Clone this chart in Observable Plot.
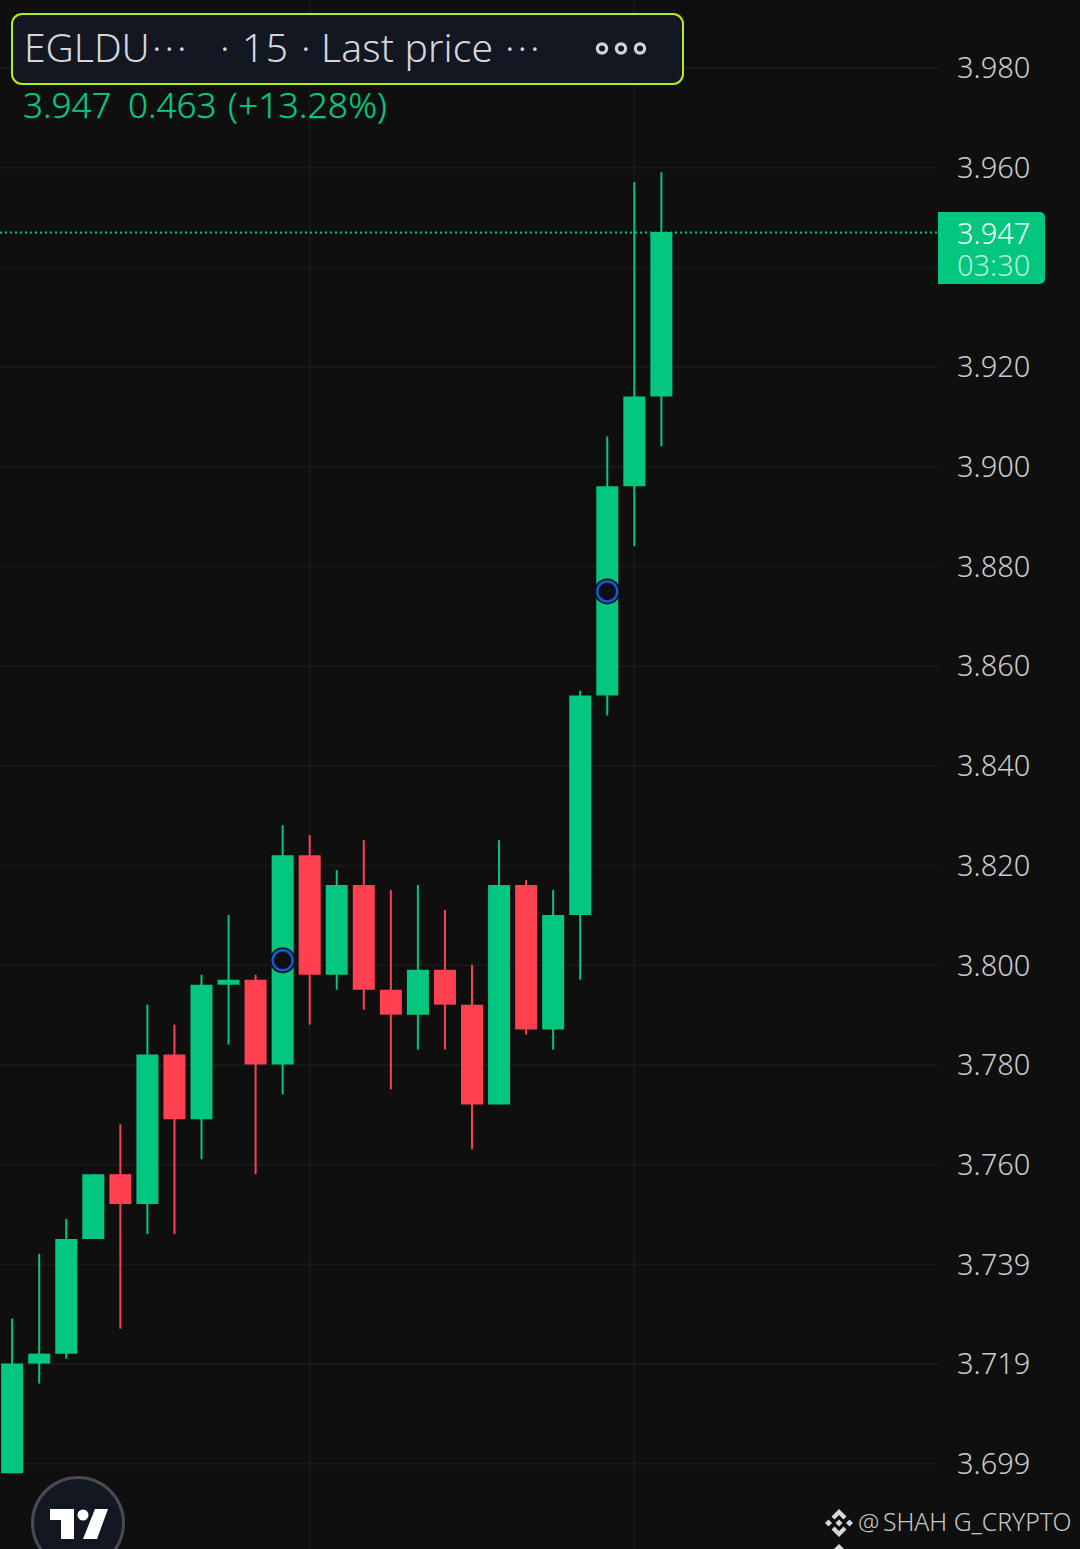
<!DOCTYPE html>
<html>
<head>
<meta charset="utf-8">
<script src="https://cdn.jsdelivr.net/npm/d3@7"></script>
<script src="https://cdn.jsdelivr.net/npm/@observablehq/plot@0.6"></script>
<style>
html,body{margin:0;padding:0;background:#0f0f0f;width:1080px;height:1549px;overflow:hidden}
#wrap{position:relative;width:1080px;height:1549px;overflow:hidden;font-family:"Noto Sans",sans-serif}
#chart svg{display:block}
.abs{position:absolute;white-space:pre;line-height:1}
.hd{font-size:39px;font-weight:300;color:#d6d6da;top:27px}
.sub{font-size:35px;font-weight:300;color:#05c982;top:87px;-webkit-text-stroke:.25px #05c982}
</style>
</head>
<body>
<div id="wrap">
<div id="chart"></div>
<div class="abs" style="left:11px;top:13px;width:669px;height:68px;background:#131722;border:2px solid #b2f01a;border-radius:11px"></div>
<div class="abs hd" style="left:24px">EGLDU</div>
<div class="abs hd" style="left:152px;letter-spacing:3px">···</div>
<div class="abs hd" style="left:220px">·</div>
<div class="abs hd" style="left:242px;letter-spacing:1.500px">15</div>
<div class="abs hd" style="left:301px">·</div>
<div class="abs hd" style="left:321px;letter-spacing:.15px">Last price</div>
<div class="abs hd" style="left:505px;letter-spacing:3px">···</div>
<svg class="abs" style="left:590px;top:36px" width="64" height="24">
  <g fill="none" stroke="#d1d1d6" stroke-width="3.2"><circle cx="12" cy="12.5" r="4.6"/><circle cx="31" cy="12.5" r="4.6"/><circle cx="50" cy="12.5" r="4.6"/></g>
</svg>
<div class="abs sub" style="left:23px">3.947</div>
<div class="abs sub" style="left:128px">0.463</div>
<div class="abs sub" style="left:228px;font-size:35.6px">(+13.28%)</div>
<div class="abs" style="left:938px;top:212px;width:107px;height:72px;background:#03c67f;border-radius:0 5px 5px 0"></div>
<div class="abs" style="left:957px;top:218px;font-size:29px;font-weight:300;color:#fff">3.947</div>
<div class="abs" style="left:957px;top:250px;font-size:29px;font-weight:300;color:#b5eed9">03:30</div>
<svg class="abs" style="left:28px;top:1473px" width="102" height="76">
  <circle cx="50" cy="50" r="45.5" fill="#131722" stroke="#4a4b52" stroke-width="3"/>
  <path d="M22 36H46V66H33V47H22Z M67 36H80L69 66H55Z" fill="#fff"/>
  <circle cx="55" cy="42" r="5.5" fill="#fff"/>
</svg>
<svg class="abs" style="left:824px;top:1507px" width="32" height="42">
  <g fill="#d8d8d8">
    <path d="M15 2l7.500 7.500-3 3-4.500-4.500-4.500 4.500-3-3z"/>
    <path d="M15 30l-7.500-7.500 3-3 4.500 4.500 4.500-4.500 3 3z"/>
    <path d="M4.500 12.500l3.500 3.500-3.500 3.500-3.500-3.500z"/>
    <path d="M25.500 12.500l3.500 3.500-3.500 3.500-3.500-3.500z"/>
    <path d="M15 12.500l3.500 3.500-3.500 3.500-3.500-3.500z"/>
    <path d="M20 42l-5-5-5 5z"/>
  </g>
</svg>
<div class="abs" style="left:858px;top:1510px;font-size:24px;font-weight:300;color:#c8c8c8">@</div>
<div class="abs" style="left:883px;top:1510px;font-size:24.7px;font-weight:300;color:#c8c8c8">SHAH G_CRYPTO</div>
</div>
<script>
const idx    = d3.range(25);
const opens  = [3.698,3.720,3.722,3.745,3.758,3.752,3.782,3.769,3.796,3.797,3.780,3.822,3.798,3.816,3.795,3.790,3.799,3.792,3.772,3.816,3.787,3.810,3.854,3.896,3.914];
const closes = [3.720,3.722,3.745,3.758,3.752,3.782,3.769,3.796,3.797,3.780,3.822,3.798,3.816,3.795,3.790,3.799,3.792,3.772,3.816,3.787,3.810,3.854,3.896,3.914,3.947];
const highs  = [3.729,3.742,3.749,3.758,3.768,3.792,3.788,3.798,3.810,3.798,3.828,3.826,3.819,3.825,3.815,3.816,3.811,3.800,3.825,3.817,3.815,3.855,3.906,3.957,3.959];
const lows   = [3.698,3.716,3.721,3.745,3.727,3.746,3.746,3.761,3.784,3.758,3.774,3.788,3.795,3.791,3.775,3.783,3.783,3.763,3.772,3.786,3.783,3.797,3.850,3.884,3.904];
const gridValues = [3.98,3.96,3.94,3.92,3.90,3.88,3.86,3.84,3.82,3.80,3.78,3.76,3.74,3.72,3.70];
const tickValues = [3.98,3.96,3.92,3.90,3.88,3.86,3.84,3.82,3.80,3.78,3.76,3.74,3.72,3.70];
const tickLabels = ["3.980","3.960","3.920","3.900","3.880","3.860","3.840","3.820","3.800","3.780","3.760","3.739","3.719","3.699"];
const sessionLines = [11,23];
const markers = [{i:10,p:3.801},{i:22,p:3.875}];
const lastPrice = 3.947;

const candles = idx.map(i=>({i,o:opens[i],c:closes[i],h:highs[i],l:lows[i]}));
const UP="#03c67f", DOWN="#fe4051", GRID="#191919";
const col = d=>d.c>=d.o?UP:DOWN;

const plot = Plot.plot({
  width:1080,height:1549,
  marginLeft:0,marginRight:142,marginTop:0,marginBottom:0,
  style:{background:"#0f0f0f",fontFamily:'"Noto Sans",sans-serif',overflow:"hidden"},
  x:{domain:[-0.43,34.245],axis:null},
  y:{domain:[3.68281,3.99354],axis:null},
  marks:[
    Plot.ruleY(gridValues,{stroke:GRID,strokeWidth:2}),
    Plot.ruleX(sessionLines,{stroke:GRID,strokeWidth:2}),
    Plot.axisY({anchor:"right",ticks:tickValues,tickSize:0,tickPadding:18.5,dy:1,
      tickFormat:v=>tickLabels[tickValues.indexOf(v)],
      label:null,fill:"#cbcbcf",fontSize:29,fontWeight:300}),
    Plot.ruleY([lastPrice],{stroke:UP,strokeWidth:2,strokeDasharray:"2 3"}),
    Plot.ruleX(candles,{x:"i",y1:"l",y2:"h",stroke:col,strokeWidth:2}),
    Plot.ruleX(candles,{x:"i",y1:"o",y2:"c",stroke:col,strokeWidth:22}),
    Plot.dot(markers,{x:"i",y:"p",r:13,fill:"#0f0f0f",stroke:"none"}),
    Plot.dot(markers,{x:"i",y:"p",r:10,fill:"#0f0f0f",stroke:"#1459dc",strokeWidth:2.500})
  ]
});
document.getElementById("chart").appendChild(plot);
</script>
</body>
</html>
